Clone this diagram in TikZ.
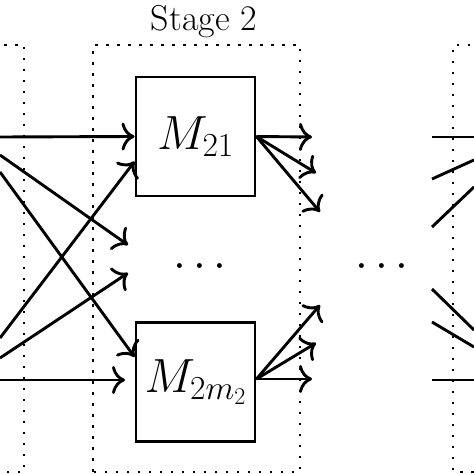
\RequirePackage{fix-cm}
\documentclass[tikz,border=0pt]{standalone}
\usetikzlibrary{arrows.meta}
\begin{document}
\begin{tikzpicture}[x=1pt,y=1pt,line width=2.9pt,
    conn/.style={-{Computer Modern Rightarrow[length=13pt,width=28pt]}},
    stagebox/.style={draw,minimum size=119pt,inner sep=0,anchor=center,font=\fontsize{48}{52}\selectfont},
    frame/.style={line width=2.9pt,dash pattern=on 2.5pt off 8.5pt}]
        \useasboundingbox (0,0) rectangle (474,474);
        \clip (0,0) rectangle (474,474);
        % stage frames
        \draw[frame] (-40,429) -- (24,429) -- (24,2) -- (-40,2);
        \draw[frame] (93,2) rectangle (300,429);
        \draw[frame] (514,429) -- (453,429) -- (453,2) -- (514,2);
        \node[anchor=base,font=\fontsize{36}{40}\selectfont] (title) at (204,443) {Stage 2};
        % modules of stage 2
        \node[stagebox] (m21) at (195.5,337.5) {$M_{21}$};
        \node[stagebox] (m2m) at (195.5,92) {$M_{2m_2}$};
        \node[font=\fontsize{46}{50}\selectfont] (dots1) at (200,207) {$\cdots$};
        \node[font=\fontsize{46}{50}\selectfont] (dots2) at (382,207) {$\cdots$};
        % links from stage 1
        \coordinate (a1) at (0,337);
        \coordinate (a2) at (0,319);
        \coordinate (a3) at (0,302);
        \coordinate (a4) at (0,136);
        \coordinate (a5) at (0,116);
        \coordinate (a6) at (0,94);
        \coordinate (d1) at (128,229);
        \coordinate (d2) at (128,201);
        \coordinate (d3) at (125,94);
        \draw[conn] (a1) -- (m21.west);
        \draw[conn] (a2) -- (d1);
        \draw[conn] (a3) -- ([yshift=25pt]m2m.west);
        \draw[conn] (a4) -- ([yshift=-25pt]m21.west);
        \draw[conn] (a5) -- (d2);
        \draw[conn] (a6) -- (d3);
        % links out of stage 2
        \coordinate (o1) at (312,337);
        \coordinate (o2) at (316,301);
        \coordinate (o3) at (320,262);
        \coordinate (o4) at (312,95);
        \coordinate (o5) at (316,131);
        \coordinate (o6) at (320,169);
        \draw[conn] (m21.east) -- (o1);
        \draw[conn] (m21.east) -- (o2);
        \draw[conn] (m21.east) -- (o3);
        \draw[conn] ([yshift=3pt]m2m.east) -- (o4);
        \draw[conn] ([yshift=3pt]m2m.east) -- (o5);
        \draw[conn] ([yshift=3pt]m2m.east) -- (o6);
        % links into the last stage
        \coordinate (r1) at (432,337);
        \coordinate (r2) at (432,295);
        \coordinate (r3) at (432,247);
        \coordinate (r4) at (432,185);
        \coordinate (r5) at (432,152);
        \coordinate (r6) at (432,94);
        \coordinate (s1) at (474,337);
        \coordinate (s2) at (474,314);
        \coordinate (s3) at (474,287);
        \coordinate (s4) at (474,144);
        \coordinate (s5) at (474,127);
        \coordinate (s6) at (474,94);
        \foreach \i in {1,...,6}
            \draw (r\i) -- (s\i);
    \end{tikzpicture}
\end{document}
